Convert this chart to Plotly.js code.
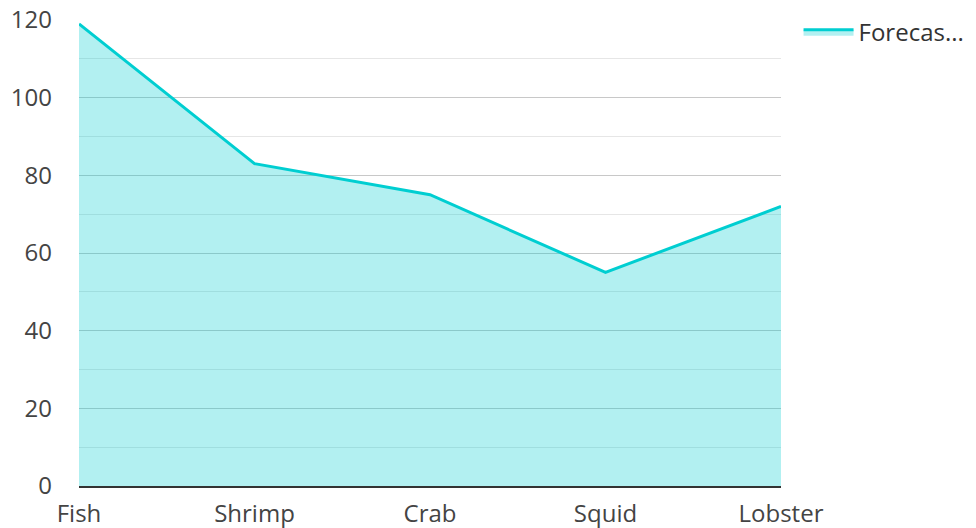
<!DOCTYPE html>
<html>
<head>
<meta charset="utf-8">
<script src="https://cdn.plot.ly/plotly-3.0.1.min.js"></script>
<style>html,body{margin:0;padding:0;background:#fff;}#chart{width:976px;height:528px;}</style>
</head>
<body>
<div id="chart"></div>
<script>
const categories = ["Fish", "Shrimp", "Crab", "Squid", "Lobster"];
const forecastValues = [119, 83, 75, 55, 72];
const seriesName = "Forecas...";
const yTicks = [0, 20, 40, 60, 80, 100, 120];

const trace = {
  x: categories,
  y: forecastValues,
  name: seriesName,
  type: "scatter",
  mode: "lines",
  fill: "tozeroy",
  fillcolor: "rgba(0,206,209,0.3)",
  line: {color: "#00CED1", width: 3},
  showlegend: true
};

const layout = {
  width: 976,
  height: 528,
  margin: {l: 79, r: 195, t: 20, b: 42, autoexpand: false},
  paper_bgcolor: "#ffffff",
  plot_bgcolor: "#ffffff",
  font: {family: "Open Sans, sans-serif", size: 24, color: "#444"},
  showlegend: true,
  legend: {x: 1.025, y: 1.022, xanchor: "left", yanchor: "top", font: {size: 24, color: "#333"}, bgcolor: "rgba(0,0,0,0)", itemwidth: 50},
  xaxis: {
    type: "category",
    range: [0, 4],
    showgrid: false,
    showline: true,
    linecolor: "#333",
    linewidth: 2,
    ticks: "",
    ticklabelstandoff: 5,
    tickfont: {size: 24, color: "#444"},
    zeroline: false
  },
  yaxis: {
    range: [0, 120],
    tickvals: yTicks,
    showgrid: true,
    gridcolor: "#c8c8c8",
    gridwidth: 1,
    minor: {dtick: 10, showgrid: true, gridcolor: "#e6e6e6", gridwidth: 1},
    showline: false,
    zeroline: false,
    ticks: "",
    ticklabelstandoff: 26,
    tickfont: {size: 24, color: "#444"}
  }
};

Plotly.newPlot("chart", [trace], layout, {displayModeBar: false, staticPlot: true});
</script>
</body>
</html>
